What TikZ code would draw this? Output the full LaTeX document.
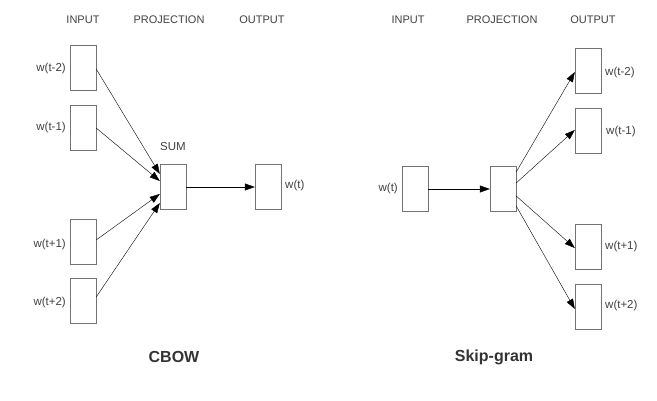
\documentclass[tikz,border=0pt]{standalone}
\usepackage{fontspec}
\setmainfont{Liberation Sans}
\usetikzlibrary{arrows.meta}
\begin{document}
\begin{tikzpicture}[x=1pt,y=-1pt,
  box/.style={draw=black!55,fill=white,minimum width=26pt,minimum height=45pt,inner sep=0pt},
  lbl/.style={text=black!75,font=\fontsize{11.5}{13}\selectfont,inner sep=0pt},
  head/.style={text=black!75,font=\fontsize{11}{13}\selectfont,inner sep=0pt},
  title/.style={text=black!80,font=\fontsize{16}{18}\bfseries\selectfont,inner sep=0pt},
  arr/.style={-{Triangle[length=10pt,width=7pt]},black,thin}]
\useasboundingbox (0,0) rectangle (657,401);
% CBOW
\node[head] (h1) at (83,20) {INPUT};
\node[head] (h2) at (169,20) {PROJECTION};
\node[head] (h3) at (262,20) {OUTPUT};
\node[box] (i1) at (83,68) {};
\node[box] (i2) at (83,128) {};
\node[box] (i3) at (83,242) {};
\node[box] (i4) at (83,301) {};
\node[lbl,anchor=east] (l1) at (66,69) {w(t-2)};
\node[lbl,anchor=east] (l2) at (66,128) {w(t-1)};
\node[lbl,anchor=east] (l3) at (66,245) {w(t+1)};
\node[lbl,anchor=east] (l4) at (66,303) {w(t+2)};
\node[box] (s) at (173,187) {};
\node[lbl] (sl) at (173,147) {SUM};
\node[box] (o) at (268,187) {};
\node[lbl,anchor=west] (ol) at (285,186) {w(t)};
\draw[arr] (i1.east |- 0,69) -- (s.west |- 0,174);
\draw[arr] (i2.east |- 0,128) -- (s.west |- 0,181);
\draw[arr] (i3.east |- 0,240) -- (s.west |- 0,194);
\draw[arr] (i4.east |- 0,297) -- (s.west |- 0,203);
\draw[arr] (s) -- (o);
\node[title] (t1) at (174,357) {CBOW};
% Skip-gram
\node[head] (k1) at (408,20) {INPUT};
\node[head] (k2) at (502,20) {PROJECTION};
\node[head] (k3) at (593,20) {OUTPUT};
\node[box] (si) at (415,189) {};
\node[lbl,anchor=east] (sil) at (398,189) {w(t)};
\node[box] (sp) at (503,189) {};
\node[box] (so1) at (588,71) {};
\node[box] (so2) at (588,131) {};
\node[box] (so3) at (588,247) {};
\node[box] (so4) at (588,307) {};
\node[lbl,anchor=west] (sl1) at (605,73) {w(t-2)};
\node[lbl,anchor=west] (sl2) at (606,132) {w(t-1)};
\node[lbl,anchor=west] (sl3) at (605,247) {w(t+1)};
\node[lbl,anchor=west] (sl4) at (605,306) {w(t+2)};
\draw[arr] (si) -- (sp);
\draw[arr] (sp.east |- 0,172) -- (so1.west |- 0,72);
\draw[arr] (sp.east |- 0,183) -- (so2.west |- 0,130);
\draw[arr] (sp.east |- 0,196) -- (so3.west |- 0,248);
\draw[arr] (sp.east |- 0,206) -- (so4.west |- 0,309);
\node[title] (t2) at (494,357) {Skip-gram};
\end{tikzpicture}
\end{document}
